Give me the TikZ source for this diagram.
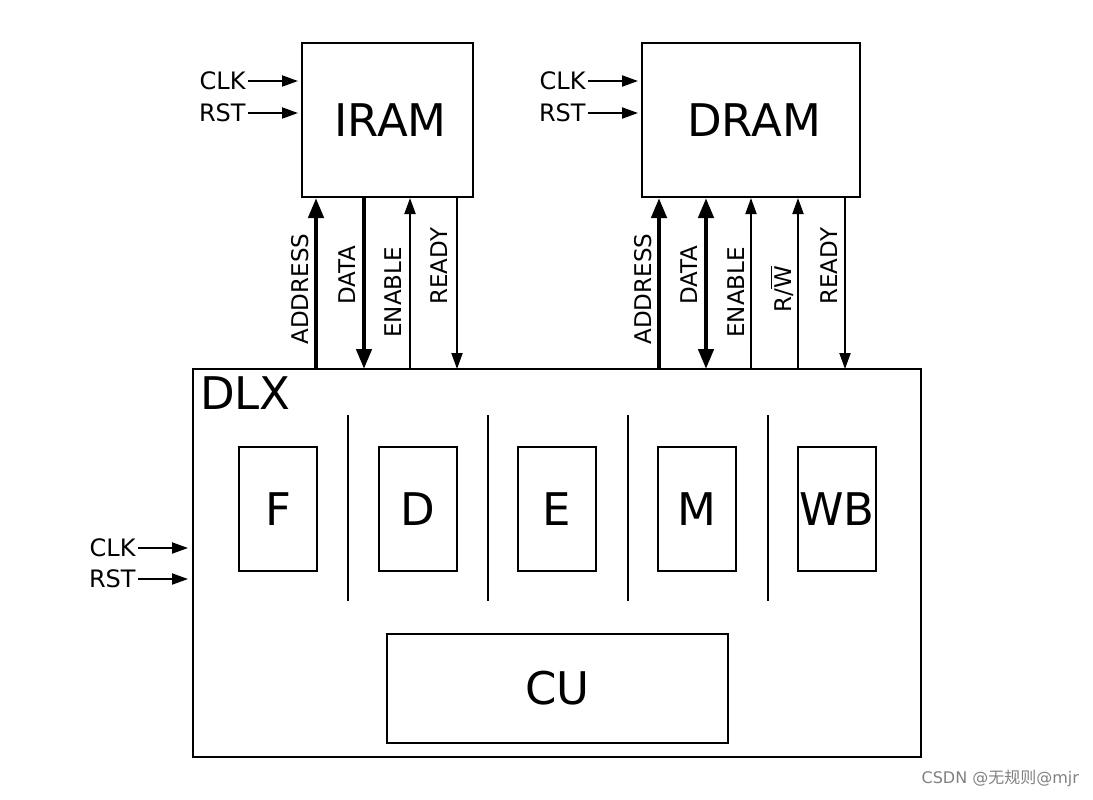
\documentclass[tikz,border=0pt]{standalone}
\usepackage{fontspec}
\setmainfont{DejaVu Sans}
\newfontfamily\cjk{Noto Sans CJK SC}
\usetikzlibrary{arrows.meta}
\begin{document}
\begin{tikzpicture}[x=0.5pt,y=-0.5pt,
  box/.style={draw,line width=1.2pt,inner sep=0pt},
  thick bus/.style={line width=2.2pt,-{Triangle[length=10pt,width=7.5pt]}},
  thin bus/.style={line width=1pt,-{Triangle[length=8pt,width=5.5pt]}},
  sig/.style={font=\fontsize{11.5}{13}\selectfont,rotate=90,anchor=west,inner sep=0pt},
  ctl/.style={font=\fontsize{12}{14}\selectfont,anchor=east,inner sep=1pt},
  big/.style={font=\fontsize{22.5}{26}\selectfont}]
\useasboundingbox (0,0) rectangle (1093,799);
% memories
\node[box,minimum width=85.5pt,minimum height=77pt,big,text width=85.5pt,align=center] (iram) at (387.5,120) {\hspace*{3pt}IRAM};
\node[box,minimum width=109pt,minimum height=77pt,big,text width=109pt,align=center] (dram) at (751,120) {\hspace*{3pt}DRAM};
% DLX
\node[box,minimum width=364pt,minimum height=194pt] (dlx) at (557,563) {};
\node[big,anchor=north west,inner sep=4pt] (dlxl) at (dlx.north west) {DLX};
\foreach \n/\t/\x in {f/F/278,d/D/418,e/E/557,m/M/697,wb/WB/837}
  \node[box,minimum width=39pt,minimum height=62pt,big] (\n) at (\x,509) {\t};
\foreach \x in {348,488,628,768}
  \draw[line width=1.2pt] (\x,415) -- (\x,601);
\node[box,minimum width=170.5pt,minimum height=54.5pt,big] (cu) at (557.5,688.5) {CU};
% clock and reset
\foreach \nm/\cx/\y in {ic/298/81,ir/298/113,dc/638/81,dr/638/113,xc/188/548,xr/188/579}
  \coordinate (\nm) at (\cx,\y);
\foreach \nm/\ex in {ic/248,ir/248,dc/588,dr/588,xc/138,xr/138}{
  \coordinate (\nm s) at (\ex,0 |- \nm);}
\foreach \nm/\t in {ic/CLK,ir/RST,dc/CLK,dr/RST,xc/CLK,xr/RST}{
  \node[ctl] (\nm l) at (\nm s) {\t};
  \draw[thin bus] (\nm l.east) -- (\nm);}
% buses
\foreach \nm/\x in {ia/316,id/364,ie/410,iy/457,da/659,dd/706,de/751,dw/798,dy/845}{
  \coordinate (\nm t) at (\x,198);
  \coordinate (\nm b) at (\x,369);}
\draw[thick bus] (iab) -- (iat);
\draw[thick bus] (idt) -- (idb);
\draw[thin bus] (ieb) -- (iet);
\draw[thin bus] (iyt) -- (iyb);
\draw[thick bus] (dab) -- (dat);
\draw[thick bus,{Triangle[length=10pt,width=7.5pt]}-{Triangle[length=10pt,width=7.5pt]}] (ddb) -- (ddt);
\draw[thin bus] (deb) -- (det);
\draw[thin bus] (dwb) -- (dwt);
\draw[thin bus] (dyt) -- (dyb);
\node[sig] (ial) at (300,345) {ADDRESS};
\node[sig] (idl) at (347,305) {DATA};
\node[sig] (iel) at (393,338) {ENABLE};
\node[sig] (iyl) at (439,305) {READY};
\node[sig] (dal) at (643,345) {ADDRESS};
\node[sig] (ddl) at (689,305) {DATA};
\node[sig] (del) at (736,338) {ENABLE};
\node[sig] (dwl) at (782,313) {R/$\overline{\mbox{W}}$};
\node[sig] (dyl) at (829,305) {READY};
% watermark
\node[anchor=east,text=gray,font=\fontsize{8}{10}\selectfont] (wm) at (1086,778) {CSDN @{\cjk 无规则}@mjr};
\end{tikzpicture}
\end{document}
